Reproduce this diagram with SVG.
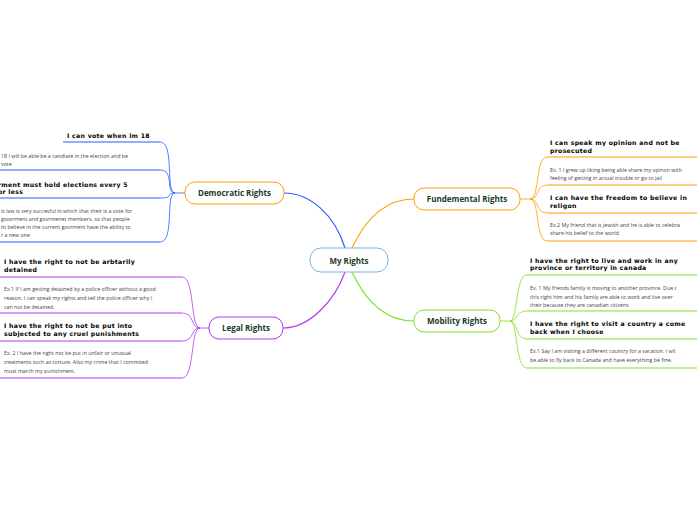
<svg xmlns="http://www.w3.org/2000/svg" width="697" height="520" viewBox="0 0 697 520">
<style>
.h{font-family:"DejaVu Sans",sans-serif;font-weight:900;font-size:6.2px;fill:#000;letter-spacing:0.3px}
.b{font-family:"Open Sans","Liberation Sans",sans-serif;font-size:5.3px;fill:#444}
.n{font-family:"Open Sans","Liberation Sans",sans-serif;font-weight:bold;font-size:8px;fill:#1a3a2a;text-anchor:middle}
.box{fill:#fff;stroke-width:1}
path,line{fill:none}
</style>
<rect width="697" height="520" fill="#fff"/>
<g id="connectors">
<path d="M345,248 C335,215 310,193 284,193" stroke="#2b5bff" stroke-width="1.2"/>
<path d="M352,248 C365,220 385,199 414,199" stroke="#ffa000" stroke-width="1.2"/>
<path d="M345,272 C335,300 310,328 283,328" stroke="#b23cf0" stroke-width="1.2"/>
<path d="M352,272 C365,300 385,321 414,321" stroke="#7ee22a" stroke-width="1.2"/>
<g stroke="#2b5bff" stroke-width="0.8">
<path d="M185,193 L175,193 C165,193 175,142 160,142 M175,193 C165,193 175,170 160,170 M175,193 C165,193 175,198 160,198 M175,193 C165,193 175,242 160,242"/>
<line x1="63" y1="142" x2="160" y2="142" stroke-width="1.2"/>
<line x1="0" y1="170" x2="160" y2="170" stroke-width="1.2"/>
<line x1="0" y1="198" x2="160" y2="198" stroke-width="1.2"/>
<line x1="0" y1="242" x2="160" y2="242" stroke-width="1.2"/>
</g>
<g stroke="#ffa000" stroke-width="0.8">
<path d="M520,199 L530,199 C540,199 535,157 547,157 M530,199 C540,199 535,185 547,185 M530,199 C540,199 535,213 547,213 M530,199 C540,199 535,241 547,241"/>
<line x1="547" y1="157" x2="697" y2="157" stroke-width="1.2"/>
<line x1="547" y1="185" x2="697" y2="185" stroke-width="1.2"/>
<line x1="547" y1="213" x2="697" y2="213" stroke-width="1.2"/>
<line x1="547" y1="241" x2="697" y2="241" stroke-width="1.2"/>
</g>
<g stroke="#b23cf0" stroke-width="0.8">
<path d="M209,328 L200,328 C190,328 195,277 182,277 M200,328 C190,328 195,313 182,313 M200,328 C190,328 195,341 182,341 M200,328 C190,328 195,378 182,378"/>
<line x1="0" y1="277" x2="182" y2="277" stroke-width="1.2"/>
<line x1="0" y1="313" x2="182" y2="313" stroke-width="1.2"/>
<line x1="0" y1="341" x2="182" y2="341" stroke-width="1.2"/>
<line x1="0" y1="378" x2="182" y2="378" stroke-width="1.2"/>
</g>
<g stroke="#7ee22a" stroke-width="0.8">
<path d="M500,321 L510,321 C518,321 515,275 527,275 M510,321 C518,321 515,311 527,311 M510,321 C518,321 515,339 527,339 M510,321 C518,321 515,368 527,368"/>
<line x1="527" y1="275" x2="697" y2="275" stroke-width="1.2"/>
<line x1="527" y1="311" x2="697" y2="311" stroke-width="1.2"/>
<line x1="527" y1="339" x2="697" y2="339" stroke-width="1.2"/>
<line x1="527" y1="368" x2="697" y2="368" stroke-width="1.2"/>
</g>
</g>
<g id="center"><rect class="box" x="310" y="248" width="78" height="24" rx="11" stroke="#7ab3e0" stroke-width="1.5"/><text class="n" x="349" y="264" font-size="10">My Rights</text></g>
<g id="democratic"><rect class="box" x="185" y="182" width="99" height="22" rx="10" stroke="#ffa000"/><text class="n" x="234.5" y="196">Democratic Rights</text></g>
<g id="fundemental"><rect class="box" x="414" y="188" width="106" height="22" rx="10" stroke="#ffa000"/><text class="n" x="467" y="202">Fundemental Rights</text></g>
<g id="legal"><rect class="box" x="209" y="317" width="74" height="22" rx="10" stroke="#b23cf0"/><text class="n" x="246" y="331">Legal Rights</text></g>
<g id="mobility"><rect class="box" x="414" y="310" width="86" height="22" rx="10" stroke="#7ee22a"/><text class="n" x="457" y="324">Mobility Rights</text></g>
<g id="dem-items">
<text class="h" x="67" y="138">I can vote when im 18</text>
<text class="b" x="1" y="158">18 I will be able be a candiate in the election and be</text>
<text class="b" x="1" y="166">vote</text>
<text class="h" x="-2" y="187">rment must hold elections every 5</text>
<text class="h" x="-2" y="194">or less</text>
<text class="b" x="1" y="213">is law is very succesful in which that their is a vote for</text>
<text class="b" x="1" y="221">gsvorment and govrmenet members, so that people</text>
<text class="b" x="1" y="229">nt believe in the current govrment have the ability to</text>
<text class="b" x="1" y="237">r a new one</text>
</g>
<g id="fund-items">
<text class="h" x="550" y="145">I can speak my opinion and not be</text>
<text class="h" x="550" y="153">prosecuted</text>
<text class="b" x="550" y="172">Ex. 1 I grew up liking being able share my opinon with</text>
<text class="b" x="550" y="180">feeling of getting in actual trouble or go to jail</text>
<text class="h" x="550" y="200">I can have the freedom to believe in</text>
<text class="h" x="550" y="208">religon</text>
<text class="b" x="550" y="227">Ex.2 My friend that is jewish and he is able to celebra</text>
<text class="b" x="550" y="235">share his belief to the world.</text>
</g>
<g id="legal-items">
<text class="h" x="4" y="264">I have the right to not be arbtarily</text>
<text class="h" x="4" y="272">detained</text>
<text class="b" x="4" y="291">Ex.1 If I am getting detained by a police officer without a good</text>
<text class="b" x="4" y="300">reason, I can speak my rights and tell the police officer why I</text>
<text class="b" x="4" y="309">can not be detained.</text>
<text class="h" x="4" y="328">I have the right to not be put into</text>
<text class="h" x="4" y="336">subjected to any cruel punishments</text>
<text class="b" x="4" y="355">Ex. 2 I have the right not be put in unfair or unusual</text>
<text class="b" x="4" y="364">treatments such as torture. Also my crime that I commited</text>
<text class="b" x="4" y="373">must march my punishment.</text>
</g>
<g id="mob-items">
<text class="h" x="530" y="263">I have the right to live and work in any</text>
<text class="h" x="530" y="270">province or territory in canada</text>
<text class="b" x="530" y="290">Ex. 1 My friends family is moving to another province. Due t</text>
<text class="b" x="530" y="299">this right him and his family are able to work and live over</text>
<text class="b" x="530" y="307">their because they are canadian citizens</text>
<text class="h" x="530" y="326">I have the right to visit a country a come</text>
<text class="h" x="530" y="334">back when I choose</text>
<text class="b" x="530" y="353">Ex.1 Say I am visiting a different country for a vacation. I wil</text>
<text class="b" x="530" y="362">be able to fly back to Canada and have everything be fine.</text>
</g>
</svg>
